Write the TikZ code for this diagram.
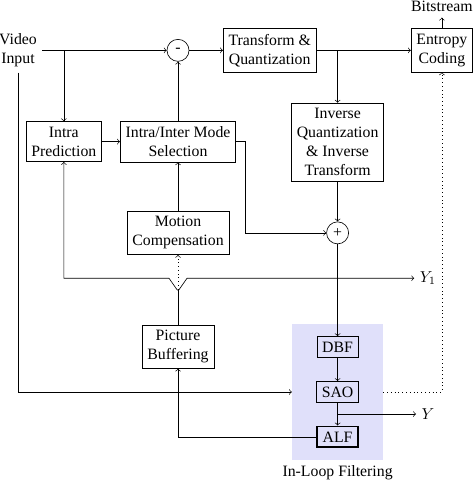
\documentclass[tikz,border=0pt]{standalone}
\usepackage{fontspec}
\setmainfont{Liberation Serif}
\definecolor{loopblue}{RGB}{224,224,250}

\begin{document}
\begin{tikzpicture}[block/.style={draw, align=center},
	sum/.style={draw, circle, minimum size=0.49cm, inner sep=0pt},
	filt/.style={draw, minimum width=0.92cm}]

\useasboundingbox (0,0) rectangle (10.55,-10.70);

\node[fill=loopblue, minimum width=2.02cm, minimum height=3.03cm] (ilf) at (7.51,-8.72) {};
\node[below] (ilflabel) at (ilf.south) {In-Loop Filtering};

\node[align=center] (vin) at (0.40,-1.12) {Video\\Input};
\node[sum] (minus) at (3.96,-1.12) {-};
\node[block] (tq) at (6.00,-1.12) {Transform \&\\Quantization};
\node[block] (ec) at (9.83,-1.12) {Entropy\\Coding};
\node (bits) at (9.83,-0.15) {Bitstream};
\node[block] (intra) at (1.42,-3.15) {Intra\\Prediction};
\node[block] (mode) at (3.96,-3.15) {Intra/Inter Mode\\Selection};
\node[block] (iq) at (7.51,-3.16) {Inverse\\Quantization\\\& Inverse\\Transform};
\node[block] (mc) at (3.96,-5.18) {Motion\\Compensation};
\node[sum] (plus) at (7.51,-5.18) {+};
\node[block] (pb) at (3.96,-7.71) {Picture\\Buffering};
\node[filt] (dbf) at (7.51,-7.72) {DBF};
\node[filt] (sao) at (7.51,-8.72) {SAO};
\node[filt, very thick] (alf) at (7.51,-9.72) {ALF};
\node (y1) at (9.52,-6.19) {$Y_1$};
\node (y) at (9.52,-9.21) {$Y$};

\foreach \a/\b in {vin.east/minus.west, minus.east/tq.west, tq.east/ec.west,
					ec.north/bits.south, intra.east/mode.west, mode.north/minus.south,
					mc.north/mode.south, iq.south/plus.north, plus.south/dbf.north,
					dbf.south/sao.north, sao.south/alf.north}
{
	\draw[->] (\a) -- (\b);
};

\draw[->] (vin.east -| intra.north) -- (intra.north);
\draw[->] (tq.east -| iq.north) -- (iq.north);
\draw[->] (mode.east) -- ++(0.2,0) |- (plus.west);
\draw[->] (vin.south) |- (ilf.west);
\draw[->] (sao.south |- y.west) -- (y.west);
\draw[->] (alf.west) -| (pb.south);
\draw[dotted, ->] (ilf.east) -| (ec.south);

\coordinate (hop) at (3.96,-6.44);
\draw[<->] (intra.south) |- (3.76,-6.19) -- (3.90,-6.39) .. controls (3.96,-6.48) .. (4.02,-6.39) -- (4.16,-6.19) -- (y1.west);
\draw (pb.north) -- (hop);
\draw[dotted, ->] (hop) -- (mc.south);
\end{tikzpicture}
\end{document}
